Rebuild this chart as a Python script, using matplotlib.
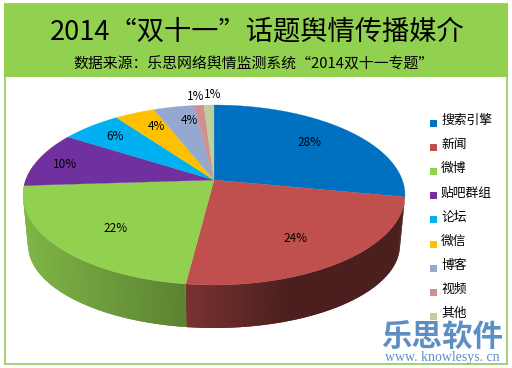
import numpy as np
import matplotlib
matplotlib.use('Agg')
import matplotlib.pyplot as plt
from matplotlib.patches import Rectangle
from matplotlib.colors import to_rgb

plt.rcParams['font.family'] = ['Noto Sans CJK SC', 'DejaVu Sans']

title = '2014“双十一”话题舆情传播媒介'
subtitle = '数据来源\uff1a乐思网络舆情监测系统“2014双十一专题”'
categories = ['搜索引擎', '新闻', '微博', '贴吧群组', '论坛', '微信', '博客', '视频', '其他']
values = [28, 24, 22, 10, 6, 4, 4, 1, 1]
colors = ['#0070C0', '#C0504D', '#92D050', '#7030A0', '#00B0F0', '#FFC000', '#95A9D0', '#D09090', '#BBD09A']

W, H = 512, 368
fig = plt.figure(figsize=(W / 100, H / 100), dpi=100, facecolor='white')
ax = fig.add_axes([0, 0, 1, 1])
ax.set_xlim(0, W)
ax.set_ylim(H, 0)
ax.axis('off')
ax.add_patch(Rectangle((5, 4), 502, 360, fc='white', ec='#92C85A', lw=1.2, zorder=0))
ax.add_patch(Rectangle((4, 4), 504, 72.5, fc='#92D050', ec='none', zorder=1))
ax.text(257, 32, title, fontsize=19.6, ha='center', va='center', color='black', zorder=5)
ax.text(254, 64, subtitle, fontsize=10.7, ha='center', va='center', color='black', zorder=5)

# perspective projection of the pie disc: far edge at the top
cx, cy = 214, 180
k = 1 / 6
a = 87.5
s = 188.3


def project(theta_deg):
    t = np.radians(theta_deg)
    x, y = np.cos(t), np.sin(t)
    den = 1 + k * y
    return cx + s * x / den, cy - a * y / den


def lower_rim(px, py):
    return cx + (px - cx) * 186 / 191, 245 + (py - 195) * 83 / 90


def shade_factor(px):
    return np.interp(px, [23, 190, 290, 405], [0.87, 0.62, 0.39, 0.39])


edges = 90 - np.cumsum([0] + values) * 3.6

# visible side wall: the slices facing the viewer, ending at the left silhouette
left_silhouette = -189.6
for i, hi, lo in [(1, edges[1], edges[2]), (2, edges[2], left_silhouette)]:
    th = np.linspace(hi, lo, int((hi - lo) / 1.0) + 2)
    rgb = np.array(to_rgb(colors[i]))
    xs, ys = project(th)
    xb, yb = lower_rim(xs, ys)
    n = len(th) - 1
    for j in range(n):
        f = shade_factor((xs[j] + xs[j + 1]) / 2)
        e = min(j + 2, n)
        ax.fill([xs[j], xs[e], xb[e], xb[j]], [ys[j], ys[e], yb[e], yb[j]],
                color=tuple(rgb * f), lw=0, zorder=2 + i * 0.01)

# top surface
for i, col in enumerate(colors):
    th = np.linspace(edges[i], edges[i + 1], max(int(values[i] * 6), 4))
    xs, ys = project(th)
    ax.fill(np.r_[cx, xs], np.r_[cy, ys], color=col, lw=0.2, zorder=3)

label_pos = [(309, 142), (295, 238), (116, 229), (65, 164), (115, 136), (156, 127), (189, 120), (196, 96), (213, 95)]
for v, (x, y) in zip(values, label_pos):
    ax.text(x, y, f'{v}%', fontsize=8.5, ha='center', va='center', color='black', zorder=6)

# legend
leg_y = [123, 147, 171, 195.5, 219.5, 244, 268, 292, 316]
for name, col, y in zip(categories, colors, leg_y):
    ax.add_patch(Rectangle((430, y - 3.5), 7, 7, fc=col, ec='none', zorder=5))
    ax.text(441, y - 2.5, name, fontsize=9.2, ha='left', va='center', color='black', zorder=6)

# logo
ax.text(442.5, 336.5, '乐思软件', fontsize=22, fontweight='bold', ha='center',
        va='center', color='#5E8FC4', zorder=7)
ax.text(442.5, 358, 'www. knowlesys. cn', fontsize=10, family='Liberation Serif',
        ha='center', va='center', color='#5E8FC4', zorder=7)

fig.savefig('out.png', dpi=100)
